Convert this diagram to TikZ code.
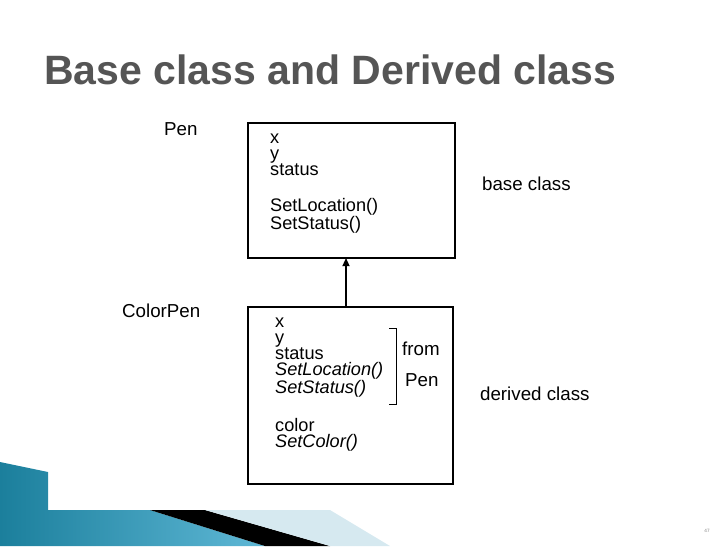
\documentclass[tikz,border=0pt]{standalone}
\usepackage{fontspec}
\setmainfont{Liberation Sans}
\usetikzlibrary{arrows.meta}
\definecolor{titlegray}{HTML}{555555}
\definecolor{teal1}{HTML}{1B7F9C}
\definecolor{teal2}{HTML}{5FB8D6}
\definecolor{paleblue}{HTML}{D6E9F0}

\begin{document}
\begin{tikzpicture}[
    x=0.03cm, y=-0.03cm,
    label/.style={anchor=west, font=\fontsize{16}{16}\selectfont},
    members/.style={anchor=north west, align=left, inner sep=0pt, font=\fontsize{15.5}{13.6}\selectfont},
    classbox/.style={draw, line width=0.9pt},
    arrow/.style={-{Triangle[length=7pt,width=6pt]}, line width=1.4pt}
]
\useasboundingbox (0,0) rectangle (728,546);

% Title
\node[anchor=west, text=titlegray, font=\fontsize{35}{38}\bfseries] (title) at (40,70) {Base class and Derived class};

% Classes
\draw[classbox] (248,123) rectangle (455,258);
\draw[classbox] (248,307) rectangle (453,484);
\coordinate (basebot) at (346,258);
\coordinate (dertop) at (346,306);

\node[members] (basemem) at (270,134) {x\\y\\status\\[1.1em]SetLocation()\\SetStatus()};
\node[members] (dermem) at (275,318) {x\\y\\status\\\textit{SetLocation()}\\\textit{SetStatus()}\\[1.1em]color\\\textit{SetColor()}};

% Bracket
\draw[line width=0.7pt] (389,328) -- (396,328) -- (396,404) -- (389,404);
\node[label] (from) at (398,349) {from};
\node[label] (frompen) at (401,380) {Pen};

% Labels
\node[label] (pen) at (160,129) {Pen};
\node[label] (colorpen) at (118,311) {ColorPen};
\node[label] (base) at (478,184) {base class};
\node[label] (derived) at (476,394) {derived class};

% Inheritance
\draw[arrow] (dertop) -- (basebot);

% Decoration
\shade[left color=teal1, right color=teal2] (0,462) -- (48,472) -- (48,510) -- (150,510) -- (265,546) -- (0,546) -- cycle;
\fill[black] (150,510) -- (205,510) -- (330,546) -- (265,546) -- cycle;
\fill[paleblue] (205,510) -- (330,510) -- (390,546) -- (330,546) -- cycle;
\node[text=gray, font=\fontsize{4}{5}\selectfont] (pagenum) at (707,531) {47};
\end{tikzpicture}
\end{document}
